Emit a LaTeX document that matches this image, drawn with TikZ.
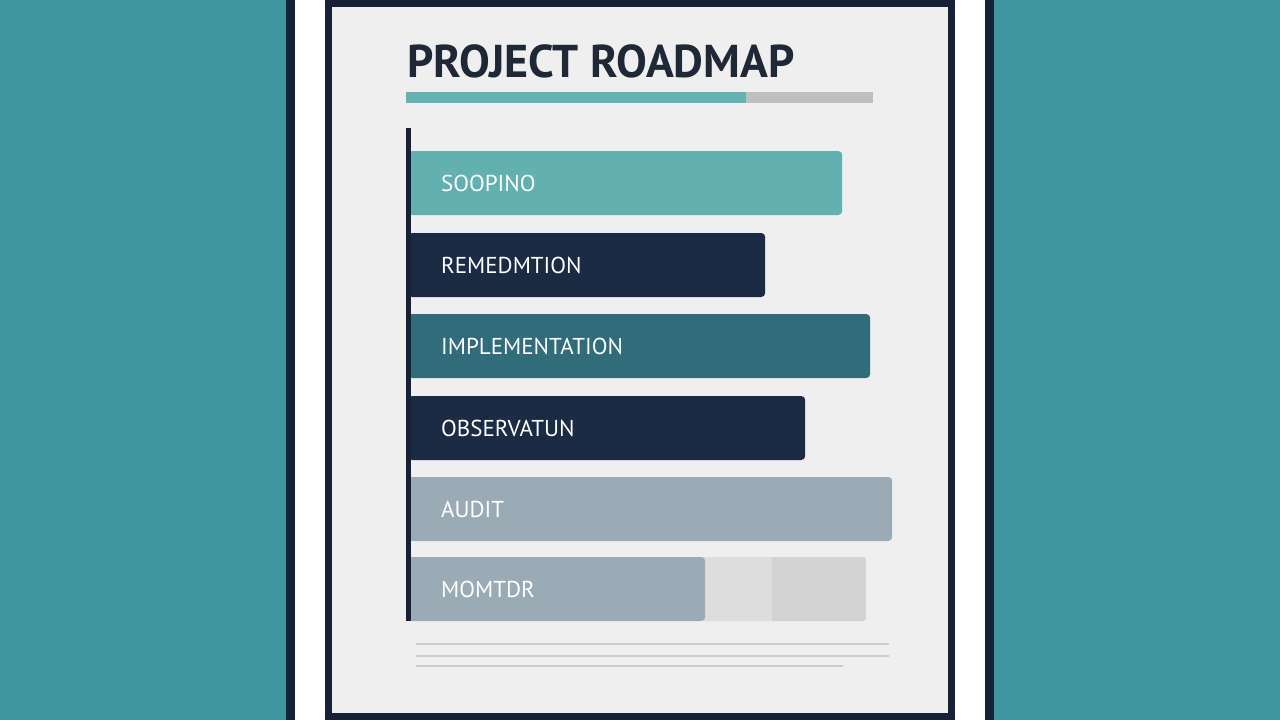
\documentclass[tikz,border=0pt]{standalone}
\usepackage{fontspec}
\setmainfont{PT Sans}
\usetikzlibrary{positioning}
\definecolor{SeaTeal}{RGB}{63,150,160}
\definecolor{Frame}{RGB}{22,32,55}
\definecolor{Sheet}{RGB}{239,239,239}
\definecolor{TitleInk}{RGB}{30,40,55}
\definecolor{ScopeTeal}{RGB}{99,176,176}
\definecolor{Navy}{RGB}{27,43,67}
\definecolor{DeepTeal}{RGB}{48,108,122}
\definecolor{Slate}{RGB}{154,171,181}
\definecolor{TrackA}{RGB}{221,221,221}
\definecolor{TrackB}{RGB}{211,211,211}
\definecolor{DoneBar}{RGB}{100,178,180}
\definecolor{TodoBar}{RGB}{190,192,192}
\definecolor{Rule}{RGB}{205,205,205}

\tikzset{
  bar/.style={anchor=west, minimum height=64pt, inner xsep=33pt, inner ysep=0pt, text=white, align=left, rounded corners=4pt, font=\fontsize{23}{23}\selectfont},
  track/.style={anchor=west, minimum height=64pt, inner sep=0pt},
  rule/.style={line width=2pt, draw=Rule}
}

\begin{document}
\begin{tikzpicture}[x=1pt,y=-1pt]
\useasboundingbox (0,0) rectangle (1280,720);
\clip (0,0) rectangle (1280,720);
\fill[SeaTeal] (0,0) rectangle (1280,720);

% page and sheet
\draw[line width=9pt, draw=Frame, fill=white] (290,-20) rectangle (989,740);
\draw[line width=7pt, draw=Frame, fill=Sheet] (328.5,3) rectangle (951,716.5);

% title and progress
\node[anchor=base west, inner sep=0pt, text=TitleInk, font=\fontsize{46}{46}\selectfont\bfseries] (title) at (407,77) {PROJECT ROADMAP};
\fill[DoneBar] (406,92) rectangle (746,103);
\fill[TodoBar] (746,92) rectangle (873,103);

% tracks behind the last bar
\node[track, fill=TrackB, rounded corners=3pt, minimum width=166pt] (trackB) at (700,589) {};
\node[track, fill=TrackA, minimum width=72pt] (trackA) at (700,589) {};

% phases
\node[bar, fill=ScopeTeal, text width=368pt] (scoping) at (408,183) {SOOPINO};
\node[bar, fill=Navy, text width=291pt] (remediation) at (408,265) {REMEDMTION};
\node[bar, fill=DeepTeal, text width=396pt] (implementation) at (408,346) {IMPLEMENTATION};
\node[bar, fill=Navy, text width=331pt] (observation) at (408,428) {OBSERVATUN};
\node[bar, fill=Slate, text width=418pt] (audit) at (408,509) {AUDIT};
\node[bar, fill=Slate, text width=231pt] (monitor) at (408,589) {MOMTDR};

% axis
\coordinate (axtop) at (408.5,128);
\coordinate (axbot) at (408.5,621);
\draw[line width=5pt, draw=Frame] (axtop) to (axbot);

% footer lines
\coordinate (ruleA) at (416,644);
\coordinate (ruleAe) at (889,644);
\coordinate (ruleB) at (416,656);
\coordinate (ruleBe) at (889,656);
\coordinate (ruleC) at (416,666);
\coordinate (ruleCe) at (843,666);
\draw[rule] (ruleA) to (ruleAe);
\draw[rule] (ruleB) to (ruleBe);
\draw[rule] (ruleC) to (ruleCe);

\end{tikzpicture}
\end{document}
